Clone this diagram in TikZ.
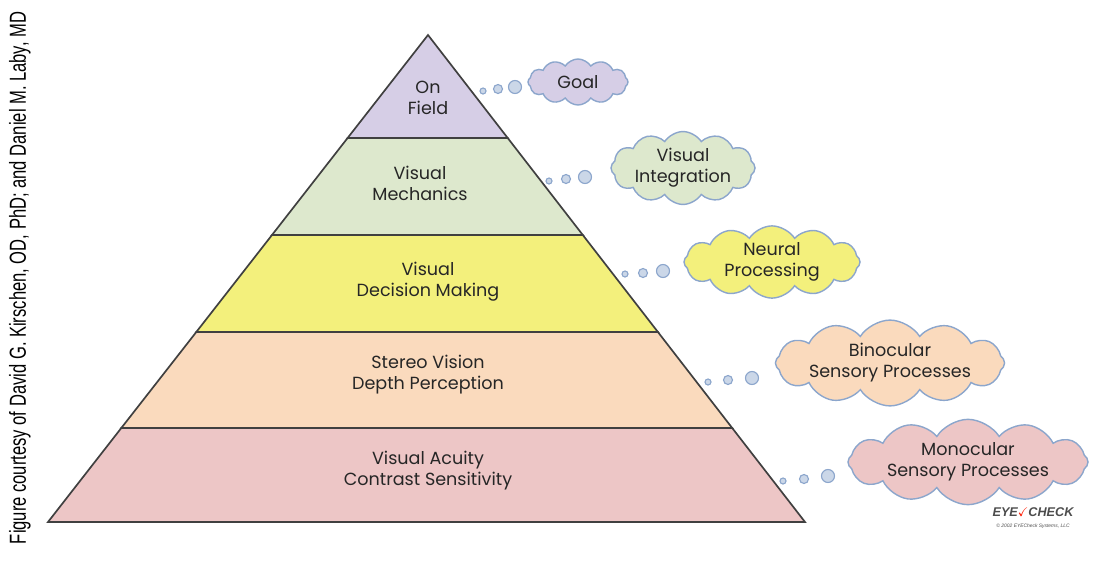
\documentclass[tikz,border=0pt]{standalone}
\usepackage{amssymb}
\usepackage{fontspec}
\setmainfont{Poppins}
\newfontfamily\notefont{Liberation Sans}
\usetikzlibrary{shapes.symbols}
\definecolor{lavender}{HTML}{D6CEE6}
\definecolor{sage}{HTML}{DDE8CD}
\definecolor{lemon}{HTML}{F3F07C}
\definecolor{peach}{HTML}{FADABD}
\definecolor{blush}{HTML}{EDC6C6}
\definecolor{rim}{HTML}{8CA6CC}
\tikzstyle{band} = [draw=black!75, line width=1.2pt]
\tikzstyle{tag} = [align=center, font=\fontsize{12.5}{15}\selectfont, text=black!85]
\tikzstyle{bubble} = [draw=rim, line width=1pt, cloud, cloud puffs=12, cloud puff arc=115, cloud ignores aspect, inner sep=0pt, align=center, font=\fontsize{12.5}{15}\selectfont, text=black!85]
\tikzstyle{dot} = [draw=rim, fill=rim!45, line width=0.8pt]

\begin{document}
\begin{tikzpicture}[x=0.025cm, y=-0.025cm]
        \useasboundingbox (0,0) rectangle (1100,560);
        % pyramid bands
        \draw[band, fill=lavender] (428,35) -- (507.7,138) -- (347.6,138) -- cycle;
        \draw[band, fill=sage] (347.6,138) -- (507.7,138) -- (582.8,235) -- (272,235) -- cycle;
        \draw[band, fill=lemon] (272,235) -- (582.8,235) -- (657.9,332) -- (196.3,332) -- cycle;
        \draw[band, fill=peach] (196.3,332) -- (657.9,332) -- (732.2,428) -- (121.3,428) -- cycle;
        \draw[band, fill=blush] (121.3,428) -- (732.2,428) -- (805,522) -- (48,522) -- cycle;
        \node[tag] (field) at (428,98) {On\\Field};
        \node[tag] (mechanics) at (420,183) {Visual\\Mechanics};
        \node[tag] (decision) at (428,282) {Visual\\Decision Making};
        \node[tag] (stereo) at (428,375) {Stereo Vision\\Depth Perception};
        \node[tag] (acuity) at (428,471) {Visual Acuity\\Contrast Sensitivity};
        % thought clouds
        \node[bubble, fill=lavender, minimum width=2.5cm, minimum height=1.15cm] (goal) at (578,82) {Goal};
        \node[bubble, fill=sage, minimum width=3.6cm, minimum height=1.6cm] (integration) at (683,168) {Visual\\Integration};
        \node[bubble, fill=lemon, minimum width=4.4cm, minimum height=1.6cm] (neural) at (772,262) {Neural\\Processing};
        \node[bubble, fill=peach, minimum width=5.7cm, minimum height=1.65cm] (binocular) at (890,363) {Binocular\\Sensory Processes};
        \node[bubble, fill=blush, minimum width=6cm, minimum height=1.7cm] (monocular) at (968,462) {Monocular\\Sensory Processes};
        % trailing dots
        \foreach \px/\py in {483/91, 549/181, 625/274, 708/382, 783/481}
            \draw[dot] (\px,\py) circle (3);
        \foreach \px/\py in {498/89, 566/179, 643/273, 728/380, 804/479}
            \draw[dot] (\px,\py) circle (4.5);
        \foreach \px/\py in {515/87, 585/177, 663/271, 752/378, 828/476}
            \draw[dot] (\px,\py) circle (6.5);
        % credit and logo
        \node[rotate=90, font=\notefont] (credit) at (20,278) {\resizebox{13.3cm}{0.42cm}{Figure courtesy of David G. Kirschen, OD, PhD; and Daniel M. Laby, MD}};
        \node[font=\notefont\bfseries\itshape\fontsize{9}{9}\selectfont, text=black!70] (logo) at (1033,512) {EYE{\color{red!80!orange}$\checkmark$}CHECK};
        \node[font=\notefont\itshape\fontsize{3.5}{4}\selectfont, text=black!70, below=-2pt] (copy) at (logo.south) {© 2002 EYECheck Systems, LLC};
    \end{tikzpicture}
\end{document}
